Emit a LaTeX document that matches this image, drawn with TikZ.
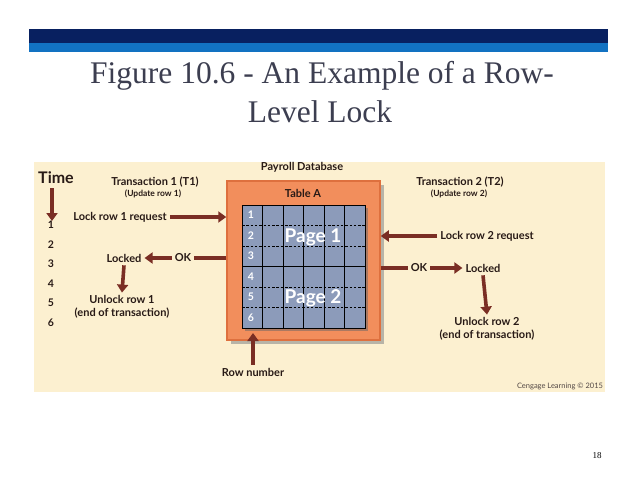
\documentclass[tikz,border=0pt]{standalone}
\usepackage{fontspec}
\usepackage{tikz}
\usetikzlibrary{arrows.meta,shadows}
\newfontfamily\titlefont{Liberation Serif}
\newfontfamily\diagfont{Lato}
\definecolor{barnavy}{RGB}{8,32,96}
\definecolor{barblue}{RGB}{18,114,194}
\definecolor{titlegray}{RGB}{60,62,80}
\definecolor{panelbeige}{RGB}{252,240,208}
\definecolor{tblorange}{RGB}{242,142,92}
\definecolor{tbledge}{RGB}{222,112,62}
\definecolor{gridblue}{RGB}{140,155,186}
\definecolor{lockred}{RGB}{122,46,36}
\definecolor{labelink}{RGB}{40,26,22}

\begin{document}
\begin{tikzpicture}[x=1pt,y=-1pt,
  lbl/.style={font=\diagfont\bfseries\fontsize{11}{12.5}\selectfont,text=labelink,inner sep=3pt,align=center},
  sublbl/.style={font=\diagfont\bfseries\fontsize{8.5}{10}\selectfont,text=labelink,inner sep=1pt},
  rowlbl/.style={font=\diagfont\bfseries\fontsize{10.5}{11}\selectfont,inner sep=0pt},
  pagelbl/.style={font=\diagfont\bfseries\fontsize{19}{21}\selectfont,text=white,inner sep=0pt},
  titleline/.style={font=\titlefont\fontsize{31.5}{36}\selectfont,text=titlegray,anchor=base},
  lockarrow/.style={draw=lockred,line width=3.6pt,-{Triangle[length=8pt,width=11pt]}},
  lockline/.style={draw=lockred,line width=3.6pt}
]
\useasboundingbox (0,0) rectangle (638,493);
\fill[white] (0,0) rectangle (638,493);
\fill[barnavy] (29,29) rectangle (608,43);
\fill[barblue] (29,43) rectangle (608,52);
\node[titleline] (titleone) at (322,83) {Figure 10.6 - An Example of a Row-};
\node[titleline] (titletwo) at (320,122) {Level Lock};
\fill[panelbeige] (34,162) rectangle (605,392);

\node[draw=tbledge,fill=tblorange,line width=1.5pt,minimum width=153pt,minimum height=159pt,inner sep=0pt,
  drop shadow={shadow xshift=4pt,shadow yshift=-4pt,fill=black!45,opacity=0.6}] (tbl) at (303.5,260.5) {};
\node[draw=black,fill=gridblue,line width=1pt,minimum width=123pt,minimum height=123pt,inner sep=0pt,
  drop shadow={shadow xshift=3pt,shadow yshift=-3pt,fill=black!60,opacity=0.5}] (grid) at (303.5,266.5) {};
\foreach \k in {1,...,5}
  \draw[line width=1pt] (242+20.5*\k,205) -- (242+20.5*\k,328);
\foreach \k in {1,2,4,5}
  \draw[line width=1pt,dashed,dash pattern=on 2.5pt off 1.8pt] (242,205+20.5*\k) -- (365,205+20.5*\k);
\draw[line width=1pt] (242,266.5) -- (365,266.5);
\foreach \r in {1,...,6}
  \node[rowlbl,text=white] (row\r) at (251,215+20.5*\r-20.5) {\r};
\node[pagelbl] (page1) at (313,237) {Page 1};
\node[pagelbl] (page2) at (313,298) {Page 2};
\node[lbl] (db) at (302,167) {Payroll Database};
\node[lbl] (tableA) at (303,193) {Table A};

\node[font=\diagfont\bfseries\fontsize{16}{18}\selectfont,text=labelink,inner sep=1pt] (time) at (56,178) {Time};
\foreach \r/\y in {1/225,2/245,3/264,4/284,5/303,6/323}
  \node[rowlbl,text=labelink] (t\r) at (51,\y) {\r};
\draw[lockarrow] (52,188) -- (t1.north -| 52,0);

\node[lbl] (tone) at (155,182) {Transaction 1 (T1)};
\node[sublbl] (tonesub) at (153,194) {(Update row 1)};
\node[lbl] (reqone) at (120,217) {Lock row 1 request};
\node[lbl] (okone) at (183,258) {OK};
\node[lbl] (lockedone) at (124,258) {Locked};
\node[lbl] (unlockone) at (122,307) {Unlock row 1\\(end of transaction)};
\draw[lockarrow] (reqone.east) -- (reqone.east -| tbl.west);
\draw[lockline] (okone.east -| tbl.west) -- (okone.east);
\draw[lockarrow] (okone.west) -- (lockedone.east);
\draw[lockarrow] (lockedone.south) -- (unlockone.north);

\node[lbl] (ttwo) at (460,182) {Transaction 2 (T2)};
\node[sublbl] (ttwosub) at (459,194) {(Update row 2)};
\node[lbl] (reqtwo) at (487,236) {Lock row 2 request};
\node[lbl] (oktwo) at (419,268) {OK};
\node[lbl] (lockedtwo) at (483,268) {Locked};
\node[lbl] (unlocktwo) at (487,329) {Unlock row 2\\(end of transaction)};
\draw[lockarrow] (reqtwo.west) -- (reqtwo.west -| tbl.east);
\draw[lockline] (oktwo.west -| tbl.east) -- (oktwo.west);
\draw[lockarrow] (oktwo.east) -- (lockedtwo.west);
\draw[lockarrow] (lockedtwo.south) -- (unlocktwo.north);

\node[lbl] (rownum) at (253,372) {Row number};
\coordinate (rowtip) at (253,333);
\draw[lockarrow] (rownum.north) -- (rowtip);

\node[font=\diagfont\fontsize{7.5}{9}\selectfont,text=labelink!80] (cengage) at (560,386) {Cengage Learning \textcopyright\ 2015};
\node[font=\titlefont\fontsize{9}{10}\selectfont] (pagenum) at (597,456) {18};
\end{tikzpicture}
\end{document}
